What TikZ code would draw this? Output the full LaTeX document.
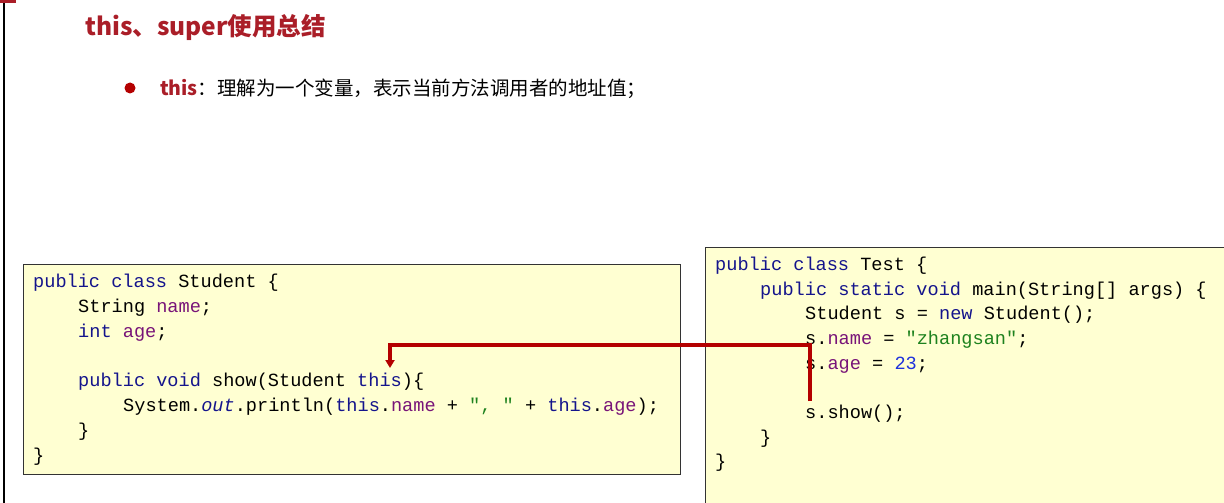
\documentclass[tikz,border=0pt]{standalone}
\usepackage{fontspec}
\newfontfamily\cjk{Noto Sans CJK SC}
\newfontfamily\code{Liberation Mono}
\usetikzlibrary{arrows.meta}
\definecolor{kw}{RGB}{20,20,140}
\definecolor{fld}{RGB}{120,20,120}
\definecolor{str}{RGB}{30,130,30}
\definecolor{num}{RGB}{30,50,220}
\definecolor{ttl}{RGB}{170,30,40}
\definecolor{arr}{RGB}{180,0,0}
\definecolor{box}{RGB}{255,255,210}
\newcommand{\K}[1]{\textcolor{kw}{#1}}
\newcommand{\F}[1]{\textcolor{fld}{#1}}
\begin{document}
\begin{tikzpicture}[x=1pt,y=-1pt,
  cl/.style={anchor=west,inner sep=0pt,font=\code\fontsize{18.6}{20}\selectfont},
  codebox/.style={draw=black!80,line width=1pt,fill=box}]
\useasboundingbox (0,0) rectangle (1224,503);
\fill[white] (0,0) rectangle (1224,503);
\draw[line width=1.5pt] (4,0) -- (4,503);
\fill[ttl] (0,0) rectangle (16,3);
\node[anchor=west,inner sep=0pt,text=ttl,font=\cjk\bfseries\fontsize{24.5}{28}\selectfont] (title) at (85,28) {this、super使用总结};
\fill[arr] (130,88) circle (5.5);
\node[anchor=west,inner sep=0pt,font=\cjk\fontsize{19.5}{22}\selectfont] (bul) at (160,89) {\textcolor{ttl}{\bfseries this}：理解为一个变量，表示当前方法调用者的地址值；};
% left box
\draw[codebox] (23,264) rectangle (680,474);
\node[cl] (l1) at (33,283) {\K{public} \K{class} Student \{};
\node[cl] (l2) at (78,308) {String \F{name};};
\node[cl] (l3) at (78,333) {\K{int} \F{age};};
\node[cl] (l4) at (78,382) {\K{public} \K{void} show(Student \K{this})\{};
\node[cl] (l5) at (123,407) {System.\textcolor{kw}{\itshape out}.println(\K{this}.\F{name} + \textcolor{str}{", "} + \K{this}.\F{age});};
\node[cl] (l6) at (78,432) {\}};
\node[cl] (l7) at (33,457) {\}};
% right box
\draw[codebox] (705,247) rectangle (1230,510);
\node[cl] (r1) at (715,266) {\K{public} \K{class} Test \{};
\node[cl] (r2) at (760,291) {\K{public} \K{static} \K{void} main(String[] args) \{};
\node[cl] (r3) at (805,315) {Student s = \K{new} Student();};
\node[cl] (r4) at (805,340) {s.\F{name} = \textcolor{str}{"zhangsan"};};
\node[cl] (r5) at (805,365) {s.\F{age} = \textcolor{num}{23};};
\node[cl] (r6) at (805,414) {s.show();};
\node[cl] (r7) at (760,439) {\}};
\node[cl] (r8) at (715,463) {\}};
\coordinate (a0) at (810,401);
\coordinate (a3) at (390,368);
\draw[arr,line width=3.2pt,-{Triangle[length=8pt,width=9pt]}] (a0) -- (810,345) -- (390,345) -- (a3);
\end{tikzpicture}
\end{document}
